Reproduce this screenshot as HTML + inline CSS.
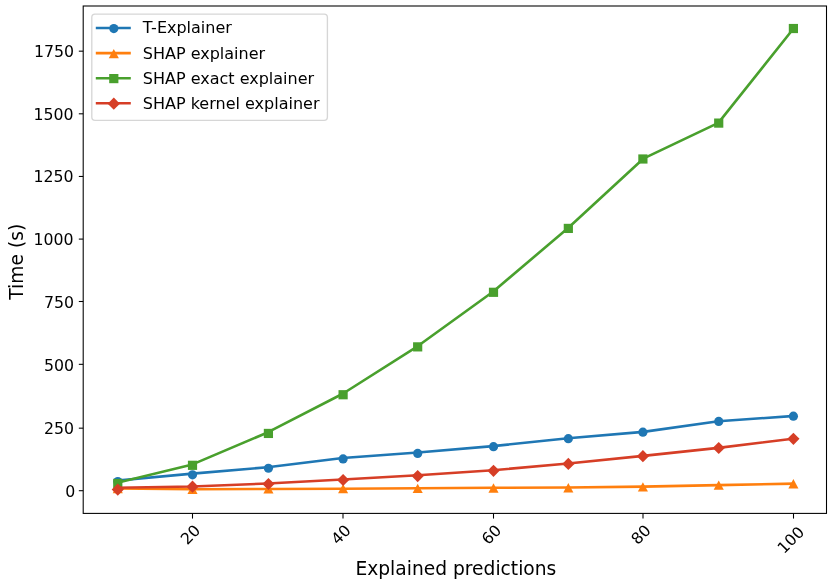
<!DOCTYPE html>
<html><head><meta charset="utf-8"><title>Explanation time</title>
<style>
html,body{margin:0;padding:0;background:#fff;}
body{width:830px;height:586px;overflow:hidden;}
svg{display:block;}
text{font-family:"DejaVu Sans","Liberation Sans",sans-serif;fill:#000;}
.t{font-size:15.75px;}
.g{font-size:16px;}
.l{font-size:18.67px;}
</style></head><body>
<svg width="830" height="586" viewBox="0 0 830 586"><defs><clipPath id="ax"><rect x="83.2" y="6.0" width="743.3" height="507.4"/></clipPath></defs><g><rect width="830" height="586" fill="#fff"/><g clip-path="url(#ax)"><polyline points="117.38,480.51 192.5,473.65 267.62,467.25 342.75,458.01 417.88,452.51 493,446.1 568.12,438.29 643.25,431.91 718.38,421.21 793.5,416.01" fill="none" stroke="#1f77b4" stroke-width="2.6" stroke-linejoin="round" stroke-linecap="square"/><circle cx="117.78" cy="481.51" r="4.6" fill="#1f77b4"/><circle cx="192.5" cy="474.85" r="4.6" fill="#1f77b4"/><circle cx="268.43" cy="468.25" r="4.6" fill="#1f77b4"/><circle cx="343.1" cy="458.91" r="4.6" fill="#1f77b4"/><circle cx="417.68" cy="453.41" r="4.6" fill="#1f77b4"/><circle cx="493.5" cy="446.7" r="4.6" fill="#1f77b4"/><circle cx="568.33" cy="438.69" r="4.6" fill="#1f77b4"/><circle cx="642.9" cy="432.21" r="4.6" fill="#1f77b4"/><circle cx="718.73" cy="421.41" r="4.6" fill="#1f77b4"/><circle cx="793.4" cy="416.21" r="4.6" fill="#1f77b4"/><polyline points="117.38,488.57 192.5,489.32 267.62,488.94 342.75,488.69 417.88,488.24 493,487.76 568.12,487.51 643.25,486.66 718.38,485.15 793.5,483.69" fill="none" stroke="#ff7f0e" stroke-width="2.6" stroke-linejoin="round" stroke-linecap="square"/><polygon points="117.78,483.87 112.73,493.17 122.83,493.17" fill="#ff7f0e"/><polygon points="192.5,484.62 187.45,493.92 197.55,493.92" fill="#ff7f0e"/><polygon points="268.43,484.24 263.38,493.54 273.48,493.54" fill="#ff7f0e"/><polygon points="343.1,483.99 338.05,493.29 348.15,493.29" fill="#ff7f0e"/><polygon points="417.68,483.74 412.62,493.04 422.73,493.04" fill="#ff7f0e"/><polygon points="493.5,483.36 488.45,492.66 498.55,492.66" fill="#ff7f0e"/><polygon points="568.33,483.11 563.27,492.41 573.38,492.41" fill="#ff7f0e"/><polygon points="642.9,482.16 637.85,491.46 647.95,491.46" fill="#ff7f0e"/><polygon points="718.73,480.55 713.67,489.85 723.78,489.85" fill="#ff7f0e"/><polygon points="793.4,479.09 788.35,488.39 798.45,488.39" fill="#ff7f0e"/><polyline points="117.38,482.69 192.5,464.41 267.62,432.44 342.75,393.74 417.88,346.07 493,291.7 568.12,228.01 643.25,158.69 718.38,122.9 793.5,28.52" fill="none" stroke="#49a02d" stroke-width="2.6" stroke-linejoin="round" stroke-linecap="square"/><rect x="113.18" y="478.89" width="9.2" height="9.2" fill="#49a02d"/><rect x="187.9" y="460.71" width="9.2" height="9.2" fill="#49a02d"/><rect x="263.82" y="428.84" width="9.2" height="9.2" fill="#49a02d"/><rect x="338.5" y="390.14" width="9.2" height="9.2" fill="#49a02d"/><rect x="413.07" y="342.27" width="9.2" height="9.2" fill="#49a02d"/><rect x="488.9" y="287.7" width="9.2" height="9.2" fill="#49a02d"/><rect x="563.73" y="223.81" width="9.2" height="9.2" fill="#49a02d"/><rect x="638.3" y="154.39" width="9.2" height="9.2" fill="#49a02d"/><rect x="714.12" y="118.5" width="9.2" height="9.2" fill="#49a02d"/><rect x="788.8" y="23.92" width="9.2" height="9.2" fill="#49a02d"/><polyline points="117.38,487.79 192.5,486.51 267.62,483.49 342.75,479.5 417.88,475.31 493,470.21 568.12,463.55 643.25,455.89 718.38,447.86 793.5,438.64" fill="none" stroke="#d63e26" stroke-width="2.6" stroke-linejoin="round" stroke-linecap="square"/><polygon points="117.78,483.49 123.88,489.59 117.78,495.69 111.68,489.59" fill="#d63e26"/><polygon points="192.5,480.61 198.6,486.71 192.5,492.81 186.4,486.71" fill="#d63e26"/><polygon points="268.43,477.89 274.53,483.99 268.43,490.09 262.32,483.99" fill="#d63e26"/><polygon points="343.1,473.9 349.2,480 343.1,486.1 337,480" fill="#d63e26"/><polygon points="417.68,470.01 423.78,476.11 417.68,482.21 411.57,476.11" fill="#d63e26"/><polygon points="493.5,464.71 499.6,470.81 493.5,476.91 487.4,470.81" fill="#d63e26"/><polygon points="568.33,457.85 574.43,463.95 568.33,470.05 562.23,463.95" fill="#d63e26"/><polygon points="642.9,450.09 649,456.19 642.9,462.29 636.8,456.19" fill="#d63e26"/><polygon points="718.73,441.91 724.83,448.01 718.73,454.11 712.62,448.01" fill="#d63e26"/><polygon points="793.4,432.69 799.5,438.79 793.4,444.89 787.3,438.79" fill="#d63e26"/></g><rect x="83.2" y="6.0" width="743.3" height="507.4" fill="none" stroke="#000" stroke-width="1.07" stroke-linejoin="miter"/><line x1="78.83" y1="490.7" x2="83.2" y2="490.7" stroke="#000" stroke-width="1.07"/><text x="75.2" y="496.5" text-anchor="end" class="t">0</text><line x1="78.83" y1="428.17" x2="83.2" y2="428.17" stroke="#000" stroke-width="1.07"/><text x="74.1" y="433.8" text-anchor="end" class="t">250</text><line x1="78.83" y1="364.33" x2="83.2" y2="364.33" stroke="#000" stroke-width="1.07"/><text x="74.0" y="371.4" text-anchor="end" class="t">500</text><line x1="78.83" y1="301.5" x2="83.2" y2="301.5" stroke="#000" stroke-width="1.07"/><text x="74.1" y="307.55" text-anchor="end" class="t">750</text><line x1="78.83" y1="239.09" x2="83.2" y2="239.09" stroke="#000" stroke-width="1.07"/><text x="73.6" y="244.72" text-anchor="end" class="t">1000</text><line x1="78.83" y1="176.45" x2="83.2" y2="176.45" stroke="#000" stroke-width="1.07"/><text x="73.6" y="182.2" text-anchor="end" class="t">1250</text><line x1="78.83" y1="113.81" x2="83.2" y2="113.81" stroke="#000" stroke-width="1.07"/><text x="73.6" y="119.65" text-anchor="end" class="t">1500</text><line x1="78.83" y1="51.17" x2="83.2" y2="51.17" stroke="#000" stroke-width="1.07"/><text x="74.0" y="56.82" text-anchor="end" class="t">1750</text><line x1="192.5" y1="513.4" x2="192.5" y2="518.57" stroke="#000" stroke-width="1.07"/><text transform="translate(201.35,531.3) rotate(-45)" text-anchor="end" class="t">20</text><line x1="343" y1="513.4" x2="343" y2="518.57" stroke="#000" stroke-width="1.07"/><text transform="translate(351.85,531.3) rotate(-45)" text-anchor="end" class="t">40</text><line x1="493.5" y1="513.4" x2="493.5" y2="518.57" stroke="#000" stroke-width="1.07"/><text transform="translate(502.35,531.3) rotate(-45)" text-anchor="end" class="t">60</text><line x1="643" y1="513.4" x2="643" y2="518.57" stroke="#000" stroke-width="1.07"/><text transform="translate(651.85,531.3) rotate(-45)" text-anchor="end" class="t">80</text><line x1="793.5" y1="513.4" x2="793.5" y2="518.57" stroke="#000" stroke-width="1.07"/><text transform="translate(805.25,533.15) rotate(-45)" text-anchor="end" class="t">100</text><text x="455.9" y="574.6" text-anchor="middle" class="l">Explained predictions</text><text transform="translate(22.95,299.7) rotate(-90)" class="l">Time (s)</text><rect x="91.8" y="14.2" width="235.6" height="106.1" rx="3.2" ry="3.2" fill="#fff" fill-opacity="0.8" stroke="#ccc" stroke-opacity="0.8" stroke-width="1.33"/><line x1="97.1" y1="28" x2="129.5" y2="28" stroke="#1f77b4" stroke-width="2.6" stroke-linecap="square"/><circle cx="113.8" cy="28.6" r="4.6" fill="#1f77b4"/><text x="142.8" y="33.4" class="g">T-Explainer</text><line x1="97.1" y1="53.1" x2="129.5" y2="53.1" stroke="#ff7f0e" stroke-width="2.6" stroke-linecap="square"/><polygon points="113.8,49 108.75,58.3 118.85,58.3" fill="#ff7f0e"/><text x="142.8" y="58.5" class="g">SHAP explainer</text><line x1="97.1" y1="78.2" x2="129.5" y2="78.2" stroke="#49a02d" stroke-width="2.6" stroke-linecap="square"/><rect x="109.2" y="74" width="9.2" height="9.2" fill="#49a02d"/><text x="142.8" y="83.6" class="g">SHAP exact explainer</text><line x1="97.1" y1="103.3" x2="129.5" y2="103.3" stroke="#d63e26" stroke-width="2.6" stroke-linecap="square"/><polygon points="113.8,97.6 119.9,103.7 113.8,109.8 107.7,103.7" fill="#d63e26"/><text x="142.8" y="108.7" class="g">SHAP kernel explainer</text></g></svg>
</body></html>
